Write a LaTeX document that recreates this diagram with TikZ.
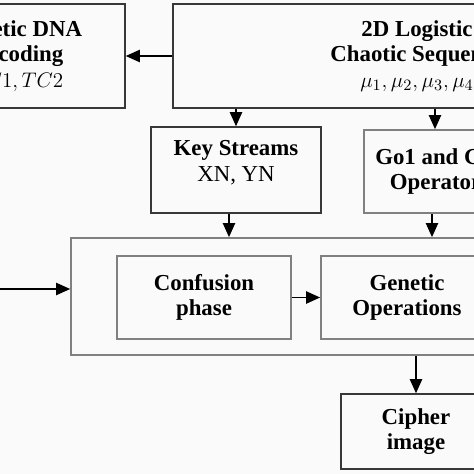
\documentclass[tikz,border=0pt]{standalone}
\usepackage{fontspec}
\setmainfont{Liberation Serif}
\usetikzlibrary{arrows.meta, positioning}

\tikzset{
  blk/.style={draw=black!78, line width=0.9pt, fill=black!2, align=center,
    font=\fontsize{13}{14.5}\selectfont\bfseries, inner sep=0pt},
  gblk/.style={blk, draw=black!50, line width=1pt},
  arr/.style={-{Triangle[length=8pt,width=7pt]}, line width=0.8pt, black}
}

\begin{document}
\begin{tikzpicture}[x=0.02cm, y=-0.02cm]
            \useasboundingbox (0,0) rectangle (474,474);
            \clip (0,0) rectangle (474,474);
            \fill[black!2] (0,0) rectangle (474,474);
            \draw (17,56) node[blk, minimum width=4.32cm, minimum height=2.08cm] (dna) {Genetic DNA\\ Encoding\\ {\mdseries $TC1, TC2$}};
            \draw (417,56) node[blk, minimum width=9.76cm, minimum height=2.08cm] (logistic) {2D Logistic\\ Chaotic Sequence\\ $\mu_1,\mu_2,\mu_3,\mu_4$};
            \draw (236,170) node[blk, minimum width=3.4cm, minimum height=1.72cm] (keys) {};
            \draw (keys.north) node[below=0.16cm, align=center, font=\fontsize{13}{14.5}\selectfont] (keystext) {\textbf{Key Streams}\\ XN, YN};
            \draw (440,171.5) node[gblk, minimum width=3.04cm, minimum height=1.66cm] (go) {Go1 and Go2\\ Operators};
            \draw (296,296.5) node[gblk, minimum width=9.0cm, minimum height=2.34cm] (outer) {};
            \draw (204,297.5) node[gblk, minimum width=3.48cm, minimum height=1.66cm] (confusion) {Confusion\\ phase};
            \draw (407,297.5) node[gblk, minimum width=3.44cm, minimum height=1.66cm] (genetic) {Genetic\\ Operations};
            \draw (416,431.5) node[blk, minimum width=3.0cm, minimum height=1.5cm] (cipher) {Cipher\\ image};
            \coordinate (plain) at (-20,289);
            \path[arr]
            (logistic.west) edge (dna.east)
            (keys.north |- logistic.south) edge (keys.north)
            ([xshift=-0.1cm]go.north |- logistic.south) edge ([xshift=-0.1cm]go.north)
            ([xshift=-0.14cm]keys.south) edge ([xshift=-0.14cm]keys.south |- outer.north)
            ([xshift=-0.16cm]go.south) edge ([xshift=-0.16cm]go.south |- outer.north)
            (plain) edge (plain -| outer.west)
            (confusion.east) edge (genetic.west)
            (cipher.north |- outer.south) edge (cipher.north);
        \end{tikzpicture}
\end{document}
